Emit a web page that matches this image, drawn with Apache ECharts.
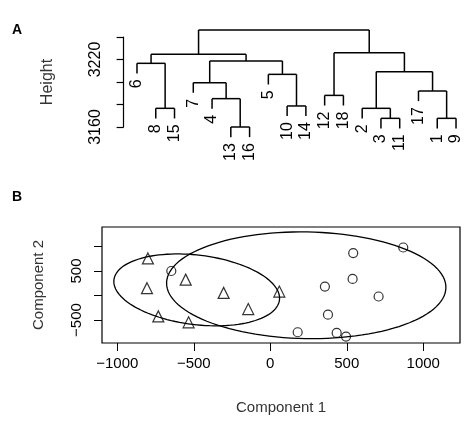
<!DOCTYPE html>
<html>
<head>
<meta charset="utf-8">
<script src="https://cdn.jsdelivr.net/npm/echarts@6/dist/echarts.min.js"></script>
<style>html,body{margin:0;padding:0;background:#fff}#c{width:474px;height:438px}</style>
</head>
<body>
<div id="c"></div>
<script>
// dendrogram (panel A)
const leafLabels = ['6', '8', '15', '7', '4', '13', '16', '5', '10', '14', '12', '18', '2', '3', '11', '17', '1', '9'];
// R style merges: negative = leaf position, positive = earlier merge step
const mergeLeft = [-6, -5, -4, -2, -1, -9, -8, 3, 5, -11, -14, -13, -17, -16, 12, 10, 9];
const mergeRight = [-7, 1, 2, -3, 4, -10, 6, 7, 8, -12, -15, 11, -18, 13, 14, 15, 16];
const mergeHeight = [3160.0, 3185.2, 3199.4, 3176.6, 3216.6, 3178.7, 3206.8, 3218.7, 3224.6,
    3188.1, 3167.7, 3176.6, 3167.7, 3192.0, 3209.2, 3226.1, 3246.2];
const hang = 9;
const heightTicks = [3160, 3220];

// PCA scatter (panel B)
const triX = [-800, -806, -553, -305, 59, -144, -732, -534];
const triY = [757, 149, 324, 54, 81, -277, -426, -547];
const circX = [-647, 542, 869, 538, 357, 708, 377, 179, 434, 495];
const circY = [500, 865, 980, 338, 182, -20, -392, -750, -764, -838];
// ellipses: centre x, centre y, semi axis x, semi axis y, screen tilt (deg)
const ellipses = [
    [-481, 115, 545, 709, 7],
    [235, 209, 913, 1088, 1],
];

const segs = [];
const leafBottoms = [];
const nodeX = [];
const pos = (ref) => ref < 0 ? -ref : nodeX[ref - 1];
mergeHeight.forEach((h, i) => {
    const refs = [mergeLeft[i], mergeRight[i]];
    const xs = refs.map(pos);
    refs.forEach((r, k) => {
        const bottom = r < 0 ? h - hang : mergeHeight[r - 1];
        if (r < 0) leafBottoms[-r - 1] = bottom;
        segs.push([xs[k], bottom, xs[k], h]);
    });
    segs.push([xs[0], h, xs[1], h]);
    nodeX.push((xs[0] + xs[1]) / 2);
});

const font = 'Liberation Sans, Arial, sans-serif';
const minus = v => String(v).replace('-', '\u2212');
const chart = echarts.init(document.getElementById('c'));
chart.setOption({
    animation: false,
    textStyle: { fontFamily: font, color: '#000' },
    graphic: [
        { type: 'text', left: 12, top: 23, style: { text: 'A', font: 'bold 14px ' + font, fill: '#000' } },
        { type: 'text', left: 12, top: 190, style: { text: 'B', font: 'bold 14px ' + font, fill: '#000' } },
    ],
    grid: [
        { left: 127.6, right: 8.6, top: 37, height: 90 },
        { left: 102, right: 14, top: 227, height: 116, show: true, borderColor: '#000', borderWidth: 1.2 },
    ],
    xAxis: [
        { gridIndex: 0, type: 'value', min: 0.5, max: 18.5, show: false },
        {
            gridIndex: 1, type: 'value', min: -1100, max: 1240, position: 'bottom',
            axisLine: { show: false, onZero: false }, splitLine: { show: false },
            axisTick: { show: true, length: 8, lineStyle: { color: '#000' }, customValues: [-1000, -500, 0, 500, 1000] },
            axisLabel: { color: '#000', fontSize: 15, margin: 13, customValues: [-1000, -500, 0, 500, 1000], formatter: minus },
            name: 'Component 1', nameLocation: 'middle', nameGap: 57, nameTextStyle: { fontSize: 15, color: '#333' },
        },
    ],
    yAxis: [
        {
            gridIndex: 0, type: 'value', min: 3160, max: 3240, interval: 20, offset: 4,
            axisLine: { show: true, lineStyle: { color: '#000', width: 1.2 } },
            axisTick: { show: true, length: 7, lineStyle: { color: '#000', width: 1.2 } },
            splitLine: { show: false },
            axisLabel: { color: '#000', fontSize: 16, rotate: 90, margin: 20,
                formatter: v => heightTicks.includes(v) ? String(v) : '' },
            name: 'Height', nameLocation: 'middle', nameGap: 68, nameTextStyle: { fontSize: 16, color: '#333' },
        },
        {
            gridIndex: 1, type: 'value', min: -969, max: 1398, position: 'left',
            axisLine: { show: false, onZero: false }, splitLine: { show: false },
            axisTick: { show: true, length: 8, lineStyle: { color: '#000' }, customValues: [-500, 0, 500, 1000] },
            axisLabel: { color: '#000', fontSize: 15, rotate: 90, margin: 18, customValues: [-500, 500], formatter: minus },
            name: 'Component 2', nameLocation: 'middle', nameGap: 56, nameTextStyle: { fontSize: 15, color: '#333' },
        },
    ],
    series: [
        {
            type: 'custom', xAxisIndex: 0, yAxisIndex: 0, clip: false,
            data: segs,
            renderItem: (params, api) => {
                const p1 = api.coord([api.value(0), api.value(1)]);
                const p2 = api.coord([api.value(2), api.value(3)]);
                return { type: 'line', shape: { x1: p1[0], y1: p1[1], x2: p2[0], y2: p2[1] },
                    style: { stroke: '#000', lineWidth: 1.5 } };
            },
        },
        {
            type: 'custom', xAxisIndex: 0, yAxisIndex: 0, clip: false,
            data: leafLabels.map((l, i) => [i + 1, leafBottoms[i]]),
            renderItem: (params, api) => {
                const p = api.coord([api.value(0), api.value(1)]);
                return { type: 'text', x: p[0], y: p[1] + 6, rotation: Math.PI / 2,
                    style: { text: leafLabels[params.dataIndex], font: '16px ' + font, fill: '#000',
                        align: 'right', verticalAlign: 'middle' } };
            },
        },
        {
            type: 'scatter', xAxisIndex: 1, yAxisIndex: 1, symbol: 'triangle', symbolSize: 11,
            itemStyle: { color: 'rgba(0,0,0,0)', borderColor: '#000', borderWidth: 1.2 },
            data: triX.map((x, i) => [x, triY[i]]),
        },
        {
            type: 'scatter', xAxisIndex: 1, yAxisIndex: 1, symbol: 'circle', symbolSize: 9,
            itemStyle: { color: 'rgba(0,0,0,0)', borderColor: '#000', borderWidth: 1.2 },
            data: circX.map((x, i) => [x, circY[i]]),
        },
        {
            type: 'custom', xAxisIndex: 1, yAxisIndex: 1, clip: true,
            data: ellipses,
            renderItem: (params, api) => {
                const c = api.coord([api.value(0), api.value(1)]);
                const a = api.size([api.value(2), 0])[0];
                const b = api.size([0, api.value(3)])[1];
                const phi = api.value(4) * Math.PI / 180;
                const pts = [];
                for (let k = 0; k < 120; k++) {
                    const t = k / 120 * Math.PI * 2;
                    const ex = a * Math.cos(t), ey = b * Math.sin(t);
                    pts.push([c[0] + ex * Math.cos(phi) - ey * Math.sin(phi), c[1] + ex * Math.sin(phi) + ey * Math.cos(phi)]);
                }
                return { type: 'polygon', shape: { points: pts }, style: { fill: 'none', stroke: '#000', lineWidth: 1.3 } };
            },
        },
    ],
});
</script>
</body>
</html>
